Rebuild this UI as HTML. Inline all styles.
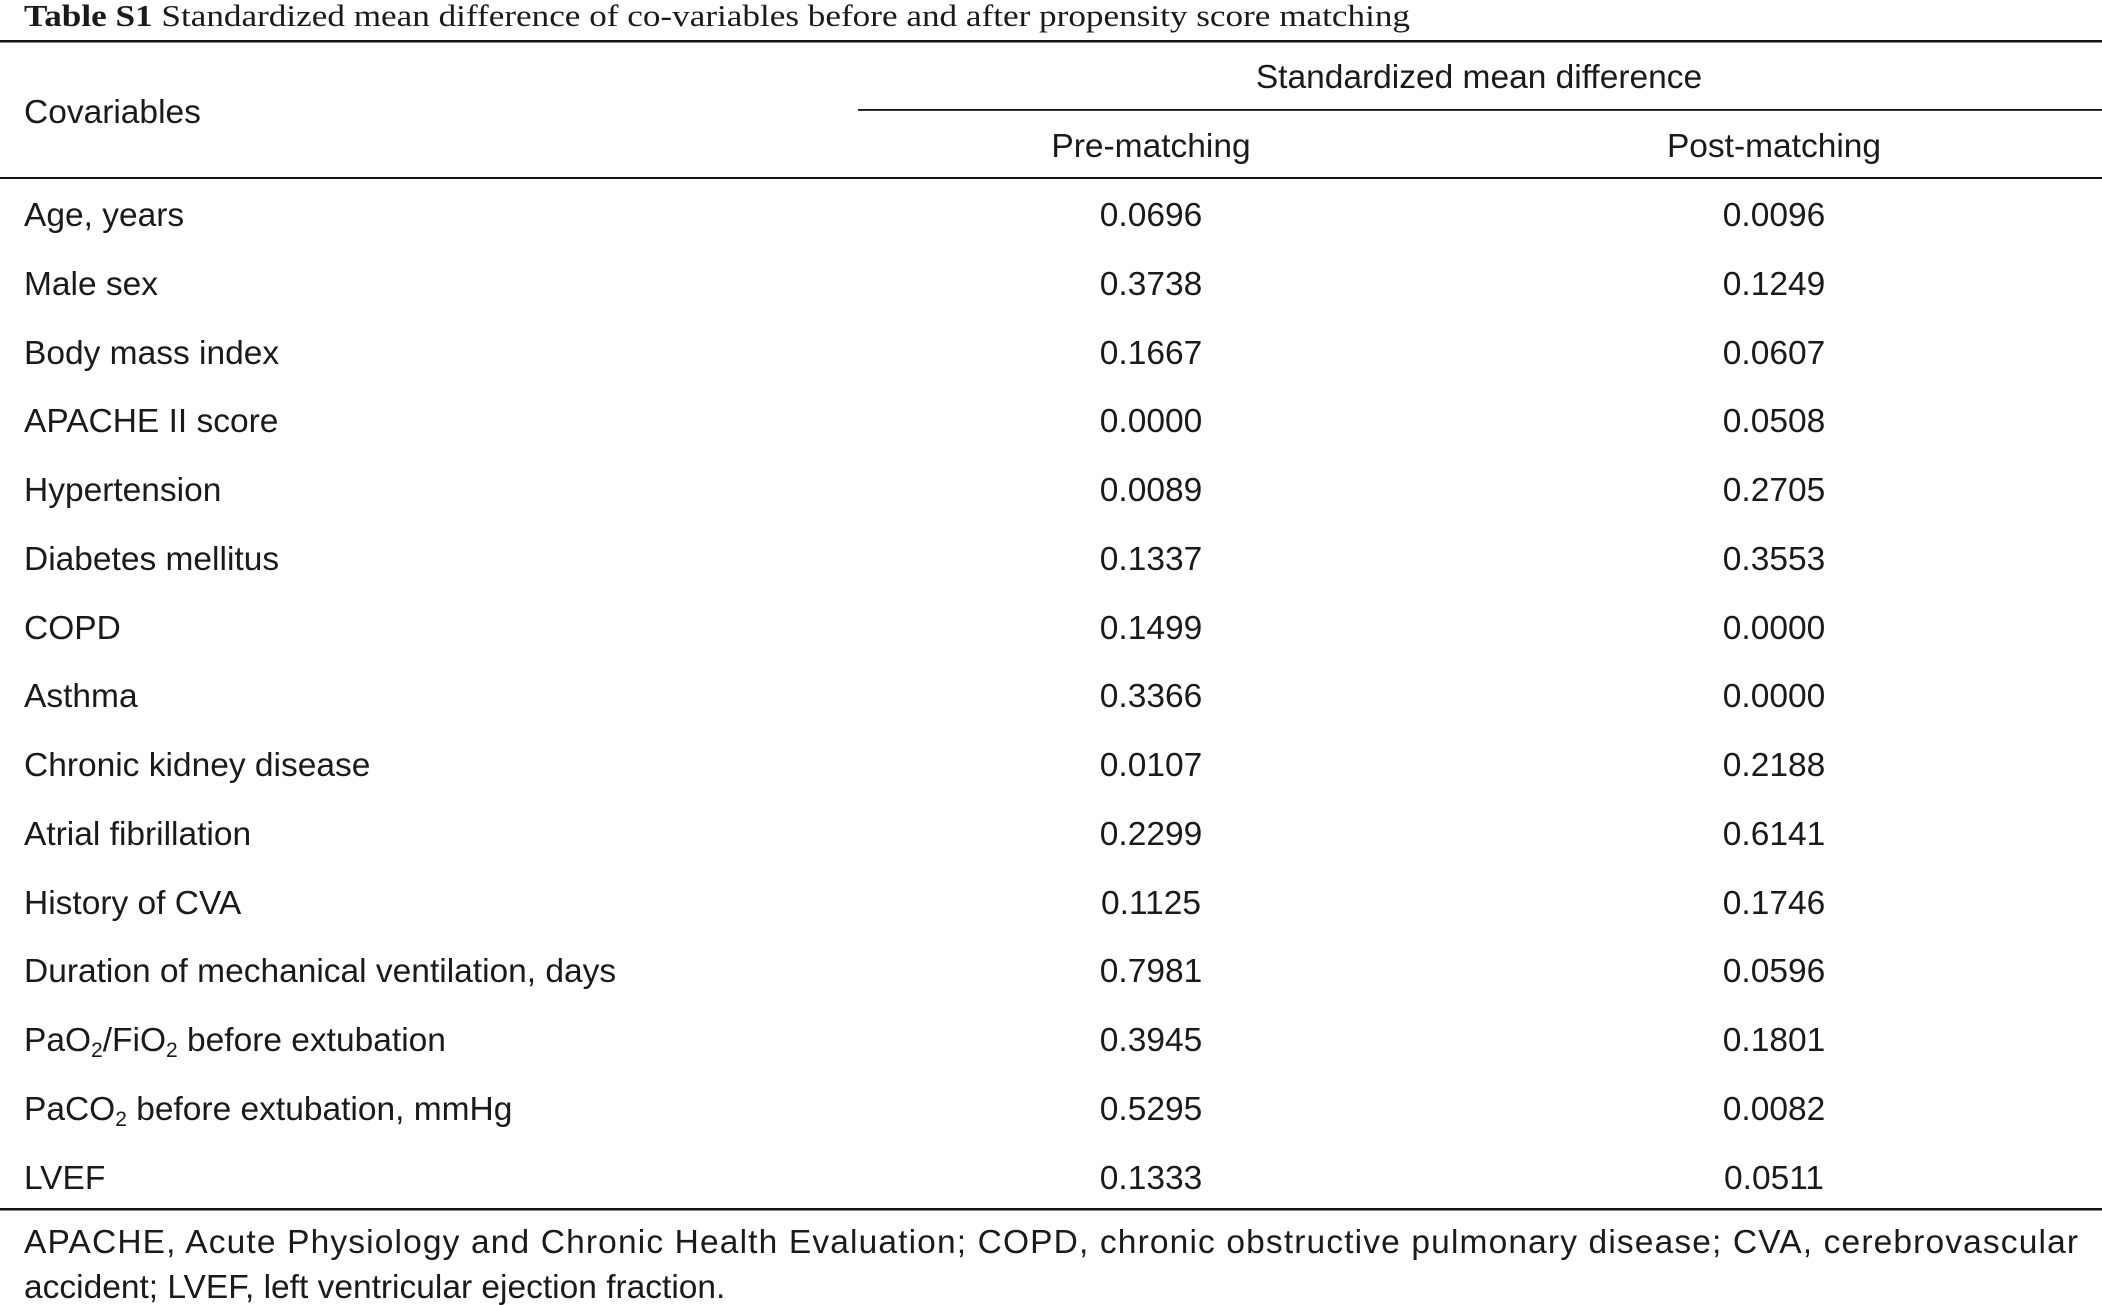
<!DOCTYPE html>
<html><head><meta charset="utf-8"><style>
html,body{margin:0;padding:0;background:#fff;}
svg{display:block;}
text{font-family:"Liberation Sans",sans-serif;font-size:33.5px;fill:#1a1a1a;}
.t{font-family:"Liberation Serif",serif;font-size:31px;}
.c{text-anchor:middle;}
</style></head><body>
<svg width="2102" height="1305" viewBox="0 0 2102 1305" xmlns="http://www.w3.org/2000/svg">
<text class="t" x="24" y="26" textLength="1386" lengthAdjust="spacingAndGlyphs"><tspan font-weight="bold">Table S1</tspan> Standardized mean difference of co-variables before and after propensity score matching</text>
<rect x="0" y="40" width="2102" height="2.5" fill="#111"/>
<text class="c" x="1479" y="88">Standardized mean difference</text>
<rect x="858" y="109" width="1244" height="1.8" fill="#111"/>
<text x="24" y="123">Covariables</text>
<text class="c" x="1151" y="157">Pre-matching</text>
<text class="c" x="1774" y="157">Post-matching</text>
<rect x="0" y="177" width="2102" height="2" fill="#111"/>
<g>
<text x="24" y="226">Age, years</text><text class="c" x="1151" y="226">0.0696</text><text class="c" x="1774" y="226">0.0096</text>
<text x="24" y="295">Male sex</text><text class="c" x="1151" y="295">0.3738</text><text class="c" x="1774" y="295">0.1249</text>
<text x="24" y="364">Body mass index</text><text class="c" x="1151" y="364">0.1667</text><text class="c" x="1774" y="364">0.0607</text>
<text x="24" y="432">APACHE II score</text><text class="c" x="1151" y="432">0.0000</text><text class="c" x="1774" y="432">0.0508</text>
<text x="24" y="501">Hypertension</text><text class="c" x="1151" y="501">0.0089</text><text class="c" x="1774" y="501">0.2705</text>
<text x="24" y="570">Diabetes mellitus</text><text class="c" x="1151" y="570">0.1337</text><text class="c" x="1774" y="570">0.3553</text>
<text x="24" y="639">COPD</text><text class="c" x="1151" y="639">0.1499</text><text class="c" x="1774" y="639">0.0000</text>
<text x="24" y="707">Asthma</text><text class="c" x="1151" y="707">0.3366</text><text class="c" x="1774" y="707">0.0000</text>
<text x="24" y="776">Chronic kidney disease</text><text class="c" x="1151" y="776">0.0107</text><text class="c" x="1774" y="776">0.2188</text>
<text x="24" y="845">Atrial fibrillation</text><text class="c" x="1151" y="845">0.2299</text><text class="c" x="1774" y="845">0.6141</text>
<text x="24" y="914">History of CVA</text><text class="c" x="1151" y="914">0.1125</text><text class="c" x="1774" y="914">0.1746</text>
<text x="24" y="982">Duration of mechanical ventilation, days</text><text class="c" x="1151" y="982">0.7981</text><text class="c" x="1774" y="982">0.0596</text>
<text x="24" y="1051">PaO<tspan font-size="21" dy="6">2</tspan><tspan dy="-6">/FiO</tspan><tspan font-size="21" dy="6">2</tspan><tspan dy="-6"> before extubation</tspan></text><text class="c" x="1151" y="1051">0.3945</text><text class="c" x="1774" y="1051">0.1801</text>
<text x="24" y="1120">PaCO<tspan font-size="21" dy="6">2</tspan><tspan dy="-6"> before extubation, mmHg</tspan></text><text class="c" x="1151" y="1120">0.5295</text><text class="c" x="1774" y="1120">0.0082</text>
<text x="24" y="1189">LVEF</text><text class="c" x="1151" y="1189">0.1333</text><text class="c" x="1774" y="1189">0.0511</text>
</g>
<rect x="0" y="1208" width="2102" height="2.5" fill="#111"/>
<text x="24" y="1253" textLength="2054" lengthAdjust="spacing">APACHE, Acute Physiology and Chronic Health Evaluation; COPD, chronic obstructive pulmonary disease; CVA, cerebrovascular</text>
<text x="24" y="1298">accident; LVEF, left ventricular ejection fraction.</text>
</svg>
</body></html>
